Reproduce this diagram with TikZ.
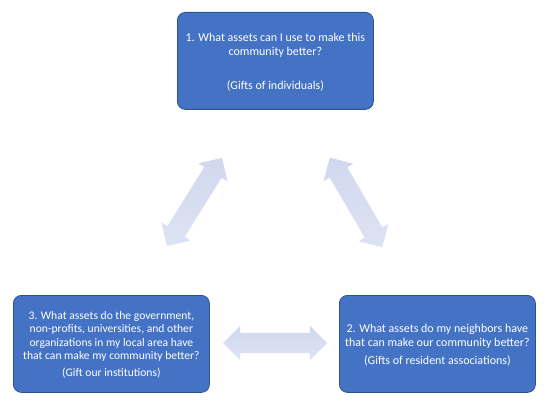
\documentclass[tikz,border=0pt]{standalone}
\usepackage{fontspec}
\setmainfont{Carlito}
\usetikzlibrary{shapes.arrows}
\definecolor{boxblue}{HTML}{4472C4}
\definecolor{boxedge}{HTML}{2F528F}
\definecolor{arrowtop}{HTML}{D1D8EE}
\definecolor{arrowbot}{HTML}{DEE3F3}
\tikzset{
  qbox/.style={draw=boxedge, line width=0.8pt, fill=boxblue, rounded corners=8pt,
    minimum width=196pt, minimum height=97pt, inner sep=0pt, anchor=north west},
  qtext/.style={text=white, align=center, font=\fontsize{12}{14}\selectfont, inner sep=0pt},
  qtextb/.style={qtext, font=\fontsize{11.6}{13.3}\selectfont},
  darrow/.style={double arrow, top color=arrowtop, bottom color=arrowbot, draw=none, minimum height=104pt,
    inner xsep=0pt, inner ysep=10pt, double arrow head extend=7pt, double arrow tip angle=90}
}
\begin{document}
\begin{tikzpicture}[x=1pt,y=-1pt]
\useasboundingbox (0,0) rectangle (550,404);
\node[qbox] (b1) at (177,12) {};
\node[qbox] (b3) at (13,295) {};
\node[qbox] (b2) at (339,295) {};
\node[qtext] (t1) at ([yshift=-1pt]b1.center) {1. What assets can I use to make this\\community better?\\[20pt](Gifts of individuals)};
\node[qtextb] (t3) at ([yshift=-1pt]b3.center) {3. What assets do the government,\\non-profits, universities, and other\\organizations in my local area have\\that can make my community better?\\[4pt](Gift our institutions)};
\node[qtext] (t2) at ([yshift=-1pt]b2.center) {2. What assets do my neighbors have\\that can make our community better?\\[4pt](Gifts of resident associations)};
\node[darrow, rotate=58] (aL) at (194.5,202) {};
\node[darrow, rotate=-59.7] (aR) at (356,202.5) {};
\node[darrow] (aB) at (275,343) {};
\end{tikzpicture}
\end{document}
